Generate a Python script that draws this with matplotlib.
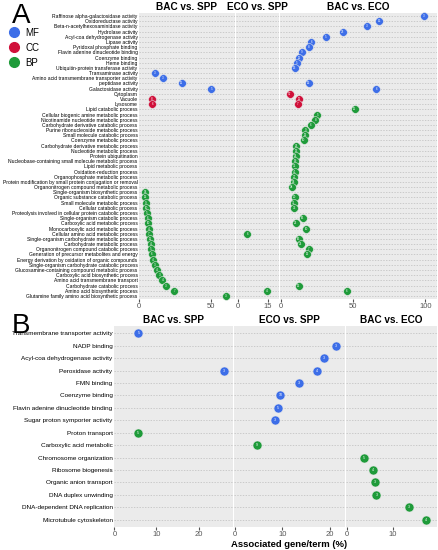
import numpy as np
import matplotlib
matplotlib.use('Agg')
import matplotlib.pyplot as plt
from matplotlib.lines import Line2D

plt.rcParams['font.family'] = ['Liberation Sans', 'DejaVu Sans']
nan = np.nan

# ---------------- panel A data ----------------
terms_a = [
    'Raffinose alpha-galactosidase activity', 'Oxidoreductase activity',
    'Beta-n-acetylhexosaminidase activity', 'Hydrolase activity',
    'Acyl-coa dehydrogenase activity', 'Lipase activity',
    'Pyridoxal phosphate binding', 'Flavin adenine dinucleotide binding',
    'Coenzyme binding', 'Heme binding', 'Ubiquitin-protein transferase activity',
    'Transaminase activity', 'Amino acid transmembrane transporter activity',
    'peptidase activity', 'Galactosidase activity',
    'Cytoplasm', 'Vacuole', 'Lysosome',
    'Lipid catabolic process', 'Cellular biogenic amine metabolic process',
    'Nicotinamide nucleotide metabolic process', 'Carbohydrate derivative catabolic process',
    'Purine ribonucleoside metabolic process', 'Small molecule catabolic process',
    'Coenzyme metabolic process', 'Carbohydrate derivative metabolic process',
    'Nucleotide metabolic process', 'Protein ubiquitination',
    'Nucleobase-containing small molecule metabolic process', 'Lipid metabolic process',
    'Oxidation-reduction process', 'Organophosphate metabolic process',
    'Protein modification by small protein conjugation or removal',
    'Organonitrogen compound metabolic process', 'Single-organism biosynthetic process',
    'Organic substance catabolic process', 'Small molecule metabolic process',
    'Cellular catabolic process', 'Proteolysis involved in cellular protein catabolic process',
    'Single-organism catabolic process', 'Carboxylic acid metabolic process',
    'Monocarboxylic acid metabolic process', 'Cellular amino acid metabolic process',
    'Single-organism carbohydrate metabolic process', 'Carbohydrate metabolic process',
    'Organonitrogen compound catabolic process', 'Generation of precursor metabolites and energy',
    'Energy derivation by oxidation of organic compounds',
    'Single-organism carbohydrate catabolic process',
    'Glucosamine-containing compound metabolic process', 'Carboxylic acid biosynthetic process',
    'Amino acid transmembrane transport', 'Carbohydrate catabolic process',
    'Amino acid biosynthetic process', 'Glutamine family amino acid biosynthetic process',
]
types_a = ['MF'] * 15 + ['CC'] * 3 + ['BP'] * 37

bac_spp_a = [nan] * 11 + [11, 16.5, 29.4, 50, nan, 8.7, 9.0] + [nan] * 16 + [
    4.0, 4.2, 4.5, 4.7, 5.2, 5.9, 6.3, 6.5, 6.7, 7.4, 7.9, 8.1, 8.8, 9.5, 10.6,
    12.3, 13.9, 16.0, 18.3, 24.3, 60]
bac_spp_a_n = [nan] * 11 + [3, 3, 11, 5, nan, 8, 6] + [nan] * 16 + [
    14, 12, 9, 10, 5, 6, 10, 4, 7, 11, 4, 5, 6, 4, 3, 4, 3, 4, 3, 7, 3]

eco_spp_a = [nan] * 42 + [4.6] + [nan] * 10 + [14.8, nan]
eco_spp_a_n = [nan] * 42 + [6] + [nan] * 10 + [4, nan]

bac_eco_a = [99, 68, 59.6, 42.9, 31.2, 21.1, 19.1, 14.5, 12.4, 10.8, 9.6, nan, nan, 19.3, 66,
             6.2, 12.4, 11.5,
             51, 25.2, 23.9, 20.9, 17, 16.6, 15.7, 10.7, 10.5, 10.3, 9.8, 9.4, 9.6, 9.2, 8.9,
             7.6, nan, 9.6, 8.9, 9.2, nan, 15.1, 10.3, 17.4, nan, 12.4, 13.8, 19.5, 18.3,
             nan, nan, nan, nan, nan, 12.4, 45.4, nan]
bac_eco_a_n = [3, 15, 3, 23, 5, 6, 8, 9, 11, 5, 13, nan, nan, 12, 6,
               57, 11, 7,
               11, 5, 8, 6, 9, 12, 10, 26, 13, 25, 19, 32, 41, 27, 14,
               38, nan, 20, 31, 33, nan, 16, 22, 10, nan, 16, 21, 7, 12,
               nan, nan, nan, nan, nan, 12, 6, nan]

# ---------------- panel B data ----------------
terms_b = ['Transmembrane transporter activity', 'NADP binding', 'Acyl-coa dehydrogenase activity',
           'Peroxidase activity', 'FMN binding', 'Coenzyme binding',
           'Flavin adenine dinucleotide binding', 'Sugar proton symporter activity',
           'Proton transport', 'Carboxylic acid metabolic', 'Chromosome organization',
           'Ribosome biogenesis', 'Organic anion transport', 'DNA duplex unwinding',
           'DNA-dependent DNA replication', 'Microtubule cytoskeleton']
types_b = ['MF'] * 8 + ['BP'] * 8

bac_spp_b = [5.7, nan, nan, 26, nan, nan, nan, nan, 5.5] + [nan] * 7
bac_spp_b_n = [5, nan, nan, 3, nan, nan, nan, nan, 5] + [nan] * 7
eco_spp_b = [nan, 21.3, 18.8, 17.3, 13.5, 9.6, 9.0, 8.4, nan, 4.6] + [nan] * 6
eco_spp_b_n = [nan, 3, 3, 4, 3, 10, 5, 3, nan, 9] + [nan] * 6
bac_eco_b = [nan] * 10 + [3.6, 5.7, 6.0, 6.4, 13.4, 17.2]
bac_eco_b_n = [nan] * 10 + [5, 4, 3, 3, 3, 4]

colors = {'MF': '#3d6ee8', 'CC': '#d0103a', 'BP': '#1f9b3a'}


def draw_panel(ax, vals, counts, types, nrow, xlim, xticks, title, ms, fs):
    ax.set_facecolor('#ebebeb')
    y = np.arange(1, nrow + 1)
    for yy in y:
        ax.axhline(yy, color='#bdbdbd', lw=0.5, ls=(0, (2, 2)), zorder=1)
    for yy, v, c, t in zip(y, vals, counts, types):
        if np.isnan(v):
            continue
        ax.plot(v, yy, 'o', ms=ms, color=colors[t], mec='#e8e8e8', mew=0.4, zorder=3,
                clip_on=False)
        ax.text(v, yy, str(int(c)), color='white', fontsize=fs, ha='center', va='center',
                zorder=4, clip_on=False)
    ax.set_xlim(*xlim)
    ax.set_ylim(nrow + 0.6, 0.4)
    ax.set_xticks(xticks)
    ax.tick_params(axis='x', labelsize=5.5, length=2, color='#555555', labelcolor='#555555', pad=1)
    ax.tick_params(axis='y', length=0)
    for s in ax.spines.values():
        s.set_visible(False)
    ax.set_title(title, fontsize=7.2, fontweight='bold', pad=2)


fig = plt.figure(figsize=(4.39, 5.5), dpi=100)
W, H = 439, 550


def axes_px(x0, x1, y0, y1):
    return fig.add_axes([x0 / W, 1 - y1 / H, (x1 - x0) / W, (y1 - y0) / H])


na = len(terms_a)
axA = [axes_px(139, 235, 13, 299), axes_px(236.5, 279, 13, 299), axes_px(280.5, 437, 13, 299)]
draw_panel(axA[0], bac_spp_a, bac_spp_a_n, types_a, na, (-0.2, 66.5), [0, 50], 'BAC vs. SPP', 5.6, 2.2)
draw_panel(axA[1], eco_spp_a, eco_spp_a_n, types_a, na, (-0.9, 20.8), [0, 15], 'ECO vs. SPP', 5.6, 2.2)
draw_panel(axA[2], bac_eco_a, bac_eco_a_n, types_a, na, (-0.3, 108), [0, 50, 100], 'BAC vs. ECO', 5.6, 2.2)
axA[0].set_yticks(np.arange(1, na + 1))
axA[0].set_yticklabels(terms_a, fontsize=3.6)
axA[0].tick_params(axis='y', pad=1)
for ax in axA[1:]:
    ax.set_yticks([])

nb = len(terms_b)
axB = [axes_px(114, 233, 326, 527), axes_px(234, 345, 326, 527), axes_px(346, 437, 326, 527)]
draw_panel(axB[0], bac_spp_b, bac_spp_b_n, types_b, nb, (-0.1, 28.2), [0, 10, 20], 'BAC vs. SPP', 6.5, 2.6)
draw_panel(axB[1], eco_spp_b, eco_spp_b_n, types_b, nb, (-0.2, 23.2), [0, 10, 20], 'ECO vs. SPP', 6.5, 2.6)
draw_panel(axB[2], bac_eco_b, bac_eco_b_n, types_b, nb, (-0.2, 19.5), [0, 10], 'BAC vs. ECO', 6.5, 2.6)
axB[0].set_yticks(np.arange(1, nb + 1))
axB[0].set_yticklabels(terms_b, fontsize=4.6)
axB[0].tick_params(axis='y', pad=1)
for ax in axB[1:]:
    ax.set_yticks([])
axB[1].set_xlabel('Associated gene/term (%)', fontsize=6.8, fontweight='bold', labelpad=1)

fig.text(12 / W, 1 - 16 / H, 'A', fontsize=20, va='center', ha='left')
fig.text(12 / W, 1 - 326 / H, 'B', fontsize=20, va='center', ha='left')

handles = [Line2D([0], [0], marker='o', ls='', color=colors[k], ms=7, label=k) for k in ['MF', 'CC', 'BP']]
fig.legend(handles=handles, loc='upper left', bbox_to_anchor=(0.0, 1 - 24 / H), frameon=False,
           fontsize=7, handletextpad=0.2, labelspacing=0.5, borderaxespad=0)

fig.savefig('out.png', dpi=100)
